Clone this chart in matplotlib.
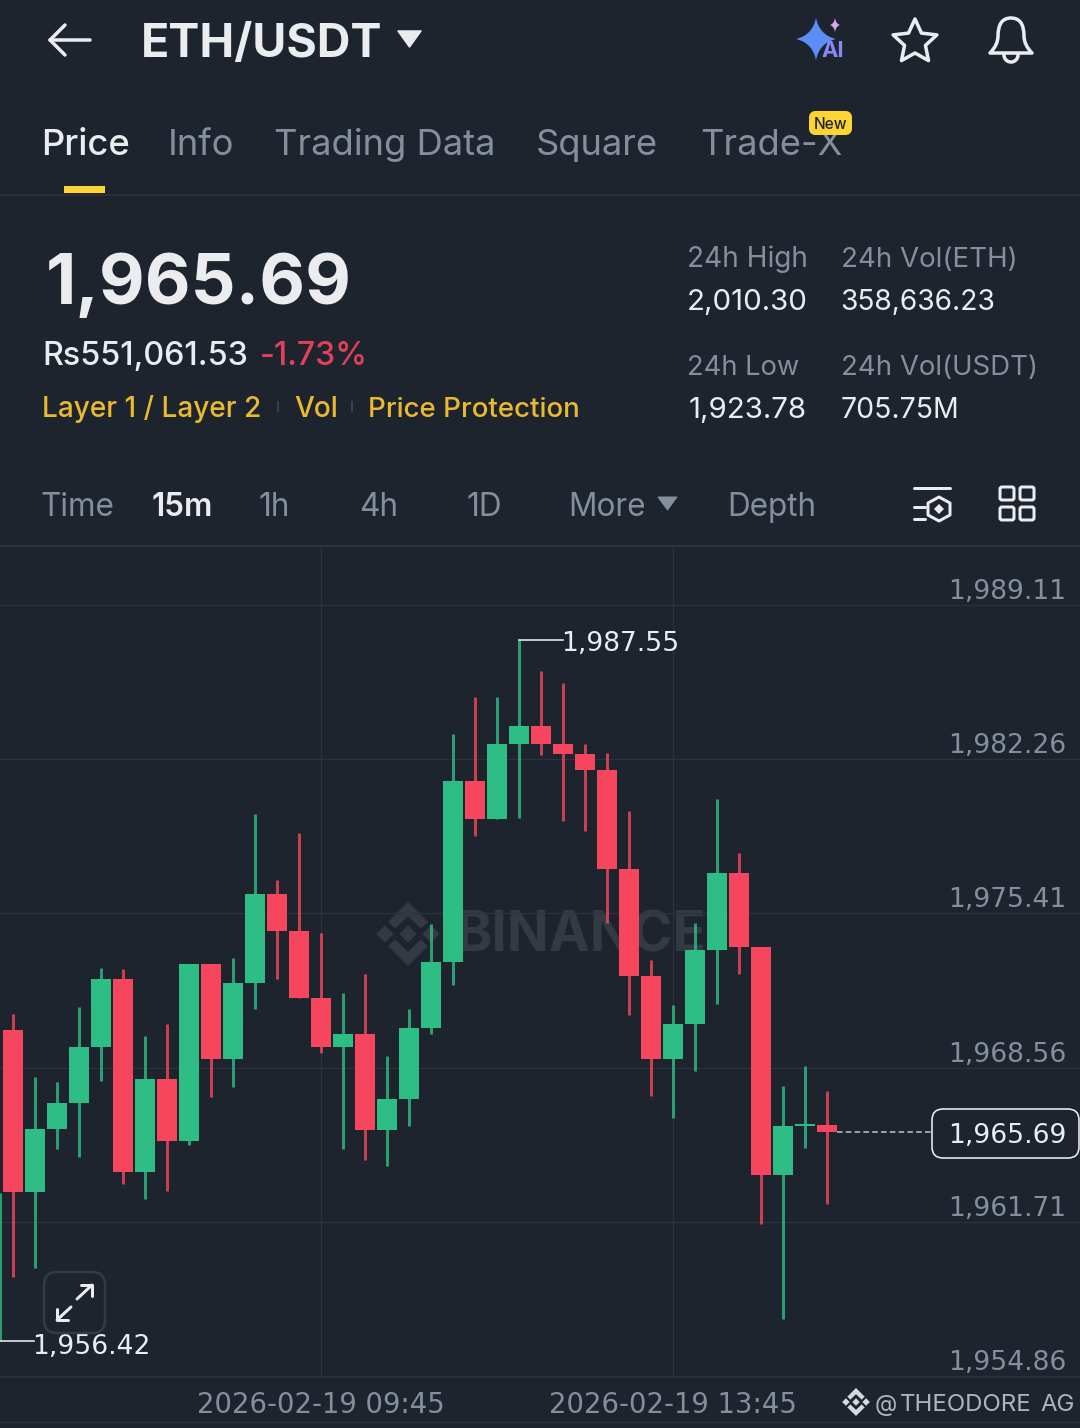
import numpy as np
import matplotlib
matplotlib.use("Agg")
import matplotlib.pyplot as plt
from matplotlib.patches import FancyBboxPatch, Polygon, PathPatch, Rectangle
from matplotlib.path import Path

plt.rcParams['font.family'] = ['Inter', 'DejaVu Sans']

# candle data
opens = [1970.23, 1963.03, 1965.83, 1966.99, 1969.47, 1972.50, 1963.92, 1968.05, 1965.30, 1973.16,
         1968.94, 1972.32, 1976.29, 1974.64, 1971.63, 1969.48, 1970.05, 1965.79, 1967.18, 1970.32,
         1973.26, 1981.30, 1979.62, 1982.94, 1983.73, 1982.94, 1982.47, 1981.78, 1977.38, 1972.63,
         1968.96, 1970.50, 1973.80, 1977.19, 1973.92, 1963.77, 1965.97, 1965.99]
closes = [1963.03, 1965.83, 1966.99, 1969.47, 1972.50, 1963.92, 1968.05, 1965.30, 1973.16, 1968.94,
          1972.32, 1976.29, 1974.64, 1971.63, 1969.48, 1970.05, 1965.79, 1967.18, 1970.32, 1973.26,
          1981.30, 1979.62, 1982.94, 1983.73, 1982.94, 1982.47, 1981.78, 1977.38, 1972.63, 1968.96,
          1970.50, 1973.80, 1977.19, 1973.92, 1963.77, 1965.97, 1966.05, 1965.69]
highs = [1970.94, 1968.14, 1967.92, 1971.25, 1972.98, 1972.94, 1969.96, 1970.50, 1973.16, 1973.16,
         1973.45, 1979.84, 1976.89, 1979.00, 1974.54, 1971.87, 1972.72, 1969.09, 1971.18, 1974.96,
         1983.40, 1985.02, 1985.02, 1987.55, 1986.18, 1985.65, 1982.94, 1982.54, 1979.98, 1973.34,
         1971.35, 1974.98, 1980.49, 1978.09, 1973.92, 1967.74, 1968.63, 1967.54]
lows = [1959.26, 1959.66, 1964.94, 1964.59, 1967.96, 1963.39, 1962.72, 1963.08, 1965.12, 1967.25,
        1967.70, 1971.16, 1972.50, 1971.63, 1969.21, 1964.96, 1964.47, 1964.19, 1965.97, 1970.05,
        1972.23, 1978.86, 1979.62, 1979.65, 1982.45, 1979.51, 1979.07, 1974.98, 1970.90, 1967.31,
        1966.32, 1968.41, 1971.39, 1972.72, 1961.62, 1957.40, 1964.99, 1962.50]
# sliver of the candle before the first one, only its low wick shows at the edge
prev_wick_top = 1963.0
prev_low = 1956.42
high_price = 1987.55
last_price = 1965.69

price_ticks = [1989.11, 1982.26, 1975.41, 1968.56, 1961.71, 1954.86]
time_ticks = [14, 30]
time_labels = ["2026-02-19 09:45", "2026-02-19 13:45"]

tabs = ["Price", "Info", "Trading Data", "Square", "Trade-X"]
tab_x = [41, 168, 274, 536, 700]
intervals = ["Time", "15m", "1h", "4h", "1D", "More", "Depth"]
interval_x = [41, 152, 258, 359, 466, 568, 727]

BG = '#1e242e'
WHITE = '#eaecef'
GRAY = '#848e9c'
YELLOW = '#e9b92f'
LINE = '#2d333d'
GREEN = '#2ebd85'
RED = '#f6465d'
CHART_FONT = 'DejaVu Sans'  # same width digits, as on the price scale

W, H = 1080, 1428
fig = plt.figure(figsize=(W / 72, H / 72), dpi=72, facecolor=BG)


def pixel_axes(z):
    a = fig.add_axes([0, 0, 1, 1], zorder=z)
    a.set_xlim(0, W)
    a.set_ylim(H, 0)
    a.axis('off')
    a.patch.set_alpha(0)
    return a


def binance_logo(a, cx, cy, r, color, z=2):
    # centre and side diamonds, top and bottom chevrons
    for dx in [-0.72, 0, 0.72]:
        s = 0.27
        a.add_patch(Polygon([(cx + (dx - s) * r, cy), (cx + dx * r, cy - s * r),
                             (cx + (dx + s) * r, cy), (cx + dx * r, cy + s * r)],
                            fc=color, ec='none', zorder=z))
    for sign in [-1, 1]:
        pts = [(0, 1), (0.62, 0.38), (0.4, 0.17), (0, 0.56), (-0.4, 0.17), (-0.62, 0.38)]
        a.add_patch(Polygon([(cx + px * r, cy + sign * py * r) for px, py in pts],
                            fc=color, ec='none', zorder=z))


# watermark goes under the candles
back = pixel_axes(0)
binance_logo(back, 408, 934, 32, '#333a44')
back.text(455, 951, "BINANCE", fontsize=55, fontweight='bold', color='#333a44', va='baseline')

# chart
y_top = 546
y_bottom = 1376
px_per_price = (1376 - 605) / (price_ticks[0] - price_ticks[-1])
ax = fig.add_axes([0, (H - y_bottom) / H, 1, (y_bottom - y_top) / H], zorder=1)
ax.patch.set_alpha(0)
ax.set_ylim(price_ticks[-1], price_ticks[0] + (605 - y_top) / px_per_price)
ax.set_xlim(-13 / 22, (W - 13) / 22)
for s in ax.spines.values():
    s.set_visible(False)
ax.set_yticks(price_ticks)
ax.set_xticks(time_ticks)
ax.set_xticklabels(time_labels, family=CHART_FONT)
ax.tick_params(axis='y', length=0, labelleft=False)
ax.tick_params(axis='x', length=0, pad=15, labelsize=27.5, labelcolor=GRAY)
ax.grid(True, color=LINE, lw=1.2)
ax.set_axisbelow(True)

idx = np.arange(len(opens))
opens = np.array(opens)
closes = np.array(closes)
colors = [GREEN if c >= o else RED for o, c in zip(opens, closes)]
ax.vlines(idx, lows, highs, colors=colors, lw=3, alpha=0.8, zorder=3)
ax.bar(idx, closes - opens, bottom=opens, width=0.88, color=colors, zorder=4)
ax.vlines(-13 / 22 + 0.02, prev_low, prev_wick_top, colors=GREEN, lw=3, alpha=0.8, zorder=3)

for p in price_ticks:
    ax.annotate(f"{p:,.2f}", (1, p), xycoords=('axes fraction', 'data'), xytext=(-14, 6),
                textcoords='offset points', ha='right', va='baseline', fontsize=26.5, color=GRAY,
                family=CHART_FONT)

# high / low markers
ax.plot([idx[23], idx[23] + 2], [high_price, high_price], color=WHITE, lw=1.6, zorder=5, clip_on=False)
ax.annotate(f"{high_price:,.2f}", (idx[23] + 2, high_price), xytext=(-2, -11), textcoords='offset points',
            va='baseline', fontsize=26.5, color=WHITE, zorder=6, family=CHART_FONT)
ax.plot([-13 / 22, 21 / 22], [prev_low, prev_low], color=WHITE, lw=1.6, zorder=5)
ax.annotate(f"{prev_low:,.2f}", (21 / 22, prev_low), xytext=(-2, -13), textcoords='offset points',
            va='baseline', fontsize=26.5, color=WHITE, zorder=6, family=CHART_FONT)

# last price line
ax.plot([idx[37] + 0.45, (932 - 13) / 22], [last_price, last_price], color='#b7bdc6', lw=1.6,
        ls=(0, (3.5, 2)), zorder=3)

ui = pixel_axes(2)


def label(x, y, s, size, color=WHITE, weight='normal', ha='left', family=None, z=3):
    ui.text(x, y, s, fontsize=size, color=color, fontweight=weight, ha=ha, va='baseline', family=family, zorder=z)


def stroke(xs, ys, color=WHITE, lw=3.5):
    ui.plot(xs, ys, color=color, lw=lw, solid_capstyle='round', solid_joinstyle='round')


# top bar
stroke([90, 50], [40, 40])
stroke([65, 50, 65], [25, 40, 55])
label(141, 57, "ETH/USDT", 46.5, weight='bold')
ui.add_patch(Polygon([(398, 31), (421, 31), (409.5, 47)], fc=WHITE, ec=WHITE, lw=1.5, joinstyle='round'))


def sparkle(cx, cy, rx, ry, color):
    verts = [(cx, cy - ry), (cx + rx * 0.18, cy - ry * 0.18), (cx + rx, cy),
             (cx + rx * 0.18, cy + ry * 0.18), (cx, cy + ry),
             (cx - rx * 0.18, cy + ry * 0.18), (cx - rx, cy),
             (cx - rx * 0.18, cy - ry * 0.18), (cx, cy - ry)]
    codes = [Path.MOVETO] + [Path.CURVE3] * 8
    ui.add_patch(PathPatch(Path(verts, codes), fc=color, ec='none'))


sparkle(816, 39, 20, 21, '#5c8df6')
sparkle(835, 25, 5, 7, '#d9a6e8')
label(821, 57, "AI", 22, color='#8a86f5', weight='bold')

ang = np.arange(10) * np.pi / 5 - np.pi / 2
rad = np.where(np.arange(10) % 2 == 0, 23, 11)
ui.add_patch(Polygon(np.c_[915 + rad * np.cos(ang), 42 + rad * np.sin(ang)], fc='none', ec=WHITE, lw=3.5,
                     joinstyle='round'))

bell = Path([(990, 53), (998, 45), (998, 36), (998, 18), (1011, 18), (1024, 18), (1024, 36),
             (1024, 45), (1032, 53), (990, 53)],
            [Path.MOVETO, Path.CURVE3, Path.CURVE3, Path.CURVE3, Path.CURVE3, Path.CURVE3, Path.CURVE3,
             Path.CURVE3, Path.CURVE3, Path.CLOSEPOLY])
ui.add_patch(PathPatch(bell, fc='none', ec=WHITE, lw=3.5, joinstyle='round'))
t = np.linspace(0, np.pi, 20)
stroke(1011 + 7 * np.cos(t), 55 + 7 * np.sin(t))

# tabs
for i, (s, x) in enumerate(zip(tabs, tab_x)):
    label(x, 155, s, 36.3, color=WHITE if i == 0 else GRAY, weight='medium' if i == 0 else 'normal', z=1)
ui.add_patch(Rectangle((64, 186), 41, 7, fc='#fcd535', ec='none'))
ui.plot([0, W], [194.5, 194.5], color=LINE, lw=1.5)
ui.add_patch(FancyBboxPatch((815, 117), 31, 12, boxstyle="round,pad=0,rounding_size=0", fc='#fcd535', ec='#fcd535',
                            lw=12, joinstyle='round', zorder=2))
label(830.5, 129, "New", 15.5, color='#1e2329', weight='medium', ha='center')

# price block
label(46, 304, "1,965.69", 70.5, weight='bold')
label(42, 365, "Rs551,061.53", 32.3, weight='medium')
label(260, 365, "-1.73%", 32, color='#e2405a', weight='medium')
label(42, 417, "Layer 1 / Layer 2", 28, color=YELLOW, weight='medium')
label(294, 417, "Vol", 28, color=YELLOW, weight='medium')
label(368, 417, "Price Protection", 27.7, color=YELLOW, weight='medium')
ui.plot([278, 278], [402, 411], color='#3a414c', lw=2)
ui.plot([352, 352], [402, 411], color='#3a414c', lw=2)

label(687, 267, "24h High", 28, color=GRAY)
label(841, 267, "24h Vol(ETH)", 27.7, color=GRAY)
label(687, 310, "2,010.30", 29.5)
label(840, 310, "358,636.23", 28.2)
label(687, 375, "24h Low", 27.3, color=GRAY)
label(841, 375, "24h Vol(USDT)", 27.6, color=GRAY)
label(689, 418, "1,923.78", 29.5)
label(841, 418, "705.75M", 28.5)

# interval row
for s, x in zip(intervals, interval_x):
    sel = s == "15m"
    label(x, 516, s, 31.5, color=WHITE if sel else GRAY, weight='semibold' if sel else 'normal')
ui.add_patch(Polygon([(658, 497), (677, 497), (667.5, 510)], fc=GRAY, ec=GRAY, lw=1))

stroke([914, 950], [488, 488], lw=3)
stroke([914, 925], [507, 507], lw=3)
stroke([914, 925], [519, 519], lw=3)
ui.add_patch(Polygon([(939, 497), (950, 503), (950, 515), (939, 521), (928, 515), (928, 503)], fc='none', ec=WHITE, lw=3,
                     joinstyle='round'))
ui.add_patch(Polygon([(939, 504), (944, 509), (939, 514), (934, 509)], fc=WHITE, ec='none'))
for bx in [1000, 1020]:
    for by in [487, 507]:
        ui.add_patch(FancyBboxPatch((bx, by), 14, 13, boxstyle="round,pad=0,rounding_size=2", fc='none', ec=WHITE, lw=3))
ui.plot([0, W], [545.5, 545.5], color=LINE, lw=2)

# expand button
ui.add_patch(FancyBboxPatch((44, 1272), 61, 61, boxstyle="round,pad=0,rounding_size=13", fc=BG, ec='#3a404b', lw=2.5,
                            alpha=0.85))
stroke([77, 92], [1299, 1285], lw=3)
stroke([81, 92, 92], [1285, 1285, 1296], lw=3)
stroke([71, 57], [1307, 1320], lw=3)
stroke([57, 57, 68], [1309, 1320, 1320], lw=3)

# last price box
ui.add_patch(FancyBboxPatch((932, 1109), 147, 49, boxstyle="round,pad=0,rounding_size=11", fc=BG, ec=WHITE, lw=1.6))
label(1007, 1143, f"{last_price:,.2f}", 26.5, ha='center', family=CHART_FONT)

# bottom strip
ui.plot([0, W], [1376.5, 1376.5], color=LINE, lw=1.5)
ui.plot([0, W], [1421.5, 1421.5], color=LINE, lw=1.2)
binance_logo(ui, 856, 1402, 14, '#d5d8dc')
label(875, 1411, "@", 23, color='#aeb4bc')
label(900, 1411, "THEODORE", 24, color='#aeb4bc')
label(1040, 1411, "AG", 24, color='#aeb4bc')

fig.savefig("out.png", dpi=72, facecolor=BG)
